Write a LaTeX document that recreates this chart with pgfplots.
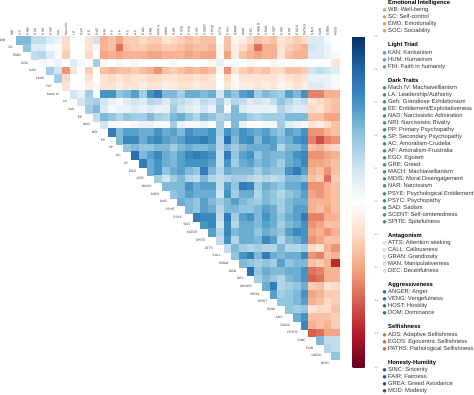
\documentclass[border=0pt]{standalone}
\usepackage{pgfplots}
\pgfplotsset{compat=1.18}
\usepackage{fontspec}
\setmainfont{Liberation Sans}
\newfontfamily\dejavu{DejaVu Sans}
\definecolor{labgrey}{HTML}{333333}
\definecolor{cEI}{HTML}{D8A25E}
\definecolor{cLT}{HTML}{6F93B8}
\definecolor{cDT}{HTML}{3E8E7E}
\definecolor{cANf}{HTML}{F2E6E2}
\definecolor{cANd}{HTML}{B89A90}
\definecolor{cAG}{HTML}{2E6F82}
\definecolor{cSE}{HTML}{C8704A}
\definecolor{cHH}{HTML}{34507F}
\newcommand{\lgt}[2]{\node[anchor=base west,inner sep=0,font=\fontsize{5.85}{7}\selectfont\bfseries,text=black] at (388bp,-#1bp) {#2};}
\newcommand{\lgi}[3]{\node[anchor=base west,inner sep=0,font=\fontsize{5.85}{7}\selectfont,text=labgrey] at (388bp,-#1bp) {\llap{{\dejavu\fontsize{4.6}{5}\selectfont\textcolor{#2}{●}}\hspace{1.6bp}}#3};}
\newcommand{\lga}[2]{\node[anchor=base west,inner sep=0,font=\fontsize{5.85}{7}\selectfont,text=labgrey] at (388bp,-#1bp) {\llap{{\dejavu\fontsize{4.6}{5}\selectfont\rlap{\textcolor{cANf}{●}}\textcolor{cANd}{○}}\hspace{1.6bp}}#2};}
\newcommand{\rl}[2]{\node[anchor=east,inner sep=0,xshift=-2.7bp,font=\fontsize{3.3}{4}\selectfont,text=labgrey] at (axis cs:#1-0.5,#1) {#2};}
\begin{document}
\begin{tikzpicture}
\useasboundingbox (0,0) rectangle (474bp,-395bp);
\begin{axis}[
  at={(8.15bp,-36.15bp)}, anchor=north west,
  width=331.1bp, height=331.1bp, scale only axis,
  xmin=0.5, xmax=43.5, ymin=0.5, ymax=43.5, y dir=reverse,
  clip=false,
  axis line style={draw=none},
  major tick length=0pt,
  xtick={1,...,43},
  xticklabels={WB,SC,EMO,SOC,KAN,HUM,FIH,Mach IV,LA,Geh,EE,NAD,NRI,PP,SP,AC,AF,EGO,GRE,MACH,MDIS,NAR,PSYE,PSYC,SAD,SCENT,SPITE,ATTS,CALL,GRAN,MAN,DEC,ANGER,VENG,HOST,DOM,ADS,EGOS,PATHS,SINC,FAIR,GREA,MOD},
  xticklabel pos=upper,
  x tick label style={rotate=90, anchor=west, font=\fontsize{3.3}{4}\selectfont, text=labgrey, inner sep=0.8bp},
  ytick=\empty,
  colormap={rdbu}{rgb255=(103,0,31) rgb255=(178,24,43) rgb255=(214,96,77) rgb255=(244,165,130) rgb255=(253,219,199) rgb255=(255,255,255) rgb255=(209,229,240) rgb255=(146,197,222) rgb255=(67,147,195) rgb255=(33,102,172) rgb255=(5,48,97)},
  point meta min=-1, point meta max=1,
  colorbar,
  colorbar style={
    at={(parent axis.north east)}, anchor=north west, xshift=4.75bp,
    width=12bp,
    ytick={-1,-0.8,-0.6,-0.4,-0.2,0,0.2,0.4,0.6,0.8,1},
    yticklabel style={font=\fontsize{2.5}{3}\selectfont, text=gray, xshift=6bp, /pgf/number format/.cd, fixed, fixed zerofill, precision=1, assume math mode=true},
    major tick length=1.5bp,
    tick style={draw=none},
    axis line style={draw=none},
  },
]
\addplot[scatter, only marks, mark=square*, mark size=3.85bp, point meta=explicit,
  scatter/use mapped color={draw=mapped color, fill=mapped color}] coordinates {
(2,1)[0.45] (3,1)[0.45] (4,1)[0.25] (5,1)[0.25] (6,1)[0.15] (7,1)[0.10] (8,1)[-0.20] (9,1)[0.00] (10,1)[0.02] (11,1)[-0.15] (12,1)[0.20] (13,1)[-0.35] (14,1)[-0.30] (15,1)[-0.40] (16,1)[-0.25] (17,1)[-0.25] (18,1)[-0.20] (19,1)[-0.25] (20,1)[-0.25] (21,1)[-0.15] (22,1)[-0.20] (23,1)[-0.25] (24,1)[-0.30] (25,1)[-0.25] (26,1)[-0.30] (27,1)[-0.30] (28,1)[0.00] (29,1)[-0.30] (30,1)[-0.05] (31,1)[-0.10] (32,1)[-0.20] (33,1)[-0.30] (34,1)[-0.25] (35,1)[-0.30] (36,1)[-0.15] (37,1)[-0.20] (38,1)[-0.25] (39,1)[-0.20] (40,1)[0.15] (41,1)[0.15] (42,1)[0.05] (43,1)[0.00]
(3,2)[0.40] (4,2)[0.15] (5,2)[0.15] (6,2)[0.05] (7,2)[0.05] (8,2)[-0.20] (9,2)[0.00] (10,2)[0.00] (11,2)[-0.15] (12,2)[0.05] (13,2)[-0.35] (14,2)[-0.30] (15,2)[-0.55] (16,2)[-0.30] (17,2)[-0.25] (18,2)[-0.25] (19,2)[-0.30] (20,2)[-0.30] (21,2)[-0.25] (22,2)[-0.25] (23,2)[-0.30] (24,2)[-0.35] (25,2)[-0.30] (26,2)[-0.30] (27,2)[-0.35] (28,2)[-0.05] (29,2)[-0.30] (30,2)[-0.10] (31,2)[-0.20] (32,2)[-0.30] (33,2)[-0.55] (34,2)[-0.35] (35,2)[-0.35] (36,2)[-0.15] (37,2)[-0.25] (38,2)[-0.30] (39,2)[-0.35] (40,2)[0.20] (41,2)[0.15] (42,2)[0.10] (43,2)[0.00]
(4,3)[0.25] (5,3)[0.30] (6,3)[0.15] (7,3)[0.05] (8,3)[-0.25] (9,3)[0.00] (10,3)[0.00] (11,3)[-0.20] (12,3)[0.00] (13,3)[-0.40] (14,3)[-0.35] (15,3)[-0.40] (16,3)[-0.35] (17,3)[-0.35] (18,3)[-0.35] (19,3)[-0.40] (20,3)[-0.40] (21,3)[-0.35] (22,3)[-0.35] (23,3)[-0.35] (24,3)[-0.40] (25,3)[-0.35] (26,3)[-0.40] (27,3)[-0.40] (28,3)[-0.05] (29,3)[-0.40] (30,3)[-0.10] (31,3)[-0.30] (32,3)[-0.35] (33,3)[-0.40] (34,3)[-0.35] (35,3)[-0.35] (36,3)[-0.15] (37,3)[-0.30] (38,3)[-0.35] (39,3)[-0.35] (40,3)[0.15] (41,3)[0.15] (42,3)[0.10] (43,3)[0.05]
(5,4)[0.05] (6,4)[0.05] (7,4)[0.10] (8,4)[0.00] (9,4)[0.15] (10,4)[0.05] (11,4)[0.00] (12,4)[0.35] (13,4)[-0.05] (14,4)[0.00] (15,4)[-0.05] (16,4)[0.00] (17,4)[-0.05] (18,4)[0.00] (19,4)[0.00] (20,4)[0.00] (21,4)[0.00] (22,4)[0.05] (23,4)[0.00] (24,4)[0.00] (25,4)[0.00] (26,4)[0.00] (27,4)[-0.05] (28,4)[0.10] (29,4)[0.00] (30,4)[0.05] (31,4)[0.00] (32,4)[-0.05] (33,4)[0.00] (34,4)[0.00] (35,4)[-0.05] (36,4)[0.05] (37,4)[0.00] (38,4)[0.00] (39,4)[0.00] (40,4)[0.00] (41,4)[0.00] (42,4)[0.00] (43,4)[-0.15]
(6,5)[0.35] (7,5)[0.20] (8,5)[-0.45] (9,5)[-0.15] (10,5)[0.00] (11,5)[-0.25] (12,5)[0.00] (13,5)[-0.30] (14,5)[-0.35] (15,5)[-0.30] (16,5)[-0.30] (17,5)[-0.25] (18,5)[-0.30] (19,5)[-0.35] (20,5)[-0.45] (21,5)[-0.30] (22,5)[-0.25] (23,5)[-0.30] (24,5)[-0.35] (25,5)[-0.30] (26,5)[-0.35] (27,5)[-0.30] (28,5)[-0.05] (29,5)[-0.45] (30,5)[-0.15] (31,5)[-0.25] (32,5)[-0.30] (33,5)[-0.25] (34,5)[-0.30] (35,5)[-0.20] (36,5)[-0.20] (37,5)[-0.30] (38,5)[-0.30] (39,5)[-0.25] (40,5)[0.20] (41,5)[0.25] (42,5)[0.20] (43,5)[0.15]
(7,6)[0.35] (8,6)[-0.20] (9,6)[0.00] (10,6)[0.00] (11,6)[-0.15] (12,6)[0.00] (13,6)[-0.15] (14,6)[-0.20] (15,6)[-0.15] (16,6)[-0.20] (17,6)[-0.15] (18,6)[-0.15] (19,6)[-0.20] (20,6)[-0.20] (21,6)[-0.15] (22,6)[-0.15] (23,6)[-0.20] (24,6)[-0.20] (25,6)[-0.15] (26,6)[-0.20] (27,6)[-0.15] (28,6)[0.00] (29,6)[-0.20] (30,6)[-0.05] (31,6)[-0.15] (32,6)[-0.15] (33,6)[-0.15] (34,6)[-0.15] (35,6)[-0.15] (36,6)[-0.10] (37,6)[-0.15] (38,6)[-0.20] (39,6)[-0.15] (40,6)[0.10] (41,6)[0.10] (42,6)[0.10] (43,6)[0.05]
(8,7)[-0.15] (9,7)[0.00] (10,7)[0.00] (11,7)[-0.10] (12,7)[0.05] (13,7)[-0.15] (14,7)[-0.15] (15,7)[-0.10] (16,7)[-0.15] (17,7)[-0.15] (18,7)[-0.10] (19,7)[-0.15] (20,7)[-0.15] (21,7)[-0.10] (22,7)[-0.10] (23,7)[-0.15] (24,7)[-0.15] (25,7)[-0.10] (26,7)[-0.15] (27,7)[-0.15] (28,7)[0.00] (29,7)[-0.15] (30,7)[-0.05] (31,7)[-0.10] (32,7)[-0.10] (33,7)[-0.15] (34,7)[-0.10] (35,7)[-0.15] (36,7)[-0.05] (37,7)[-0.10] (38,7)[-0.15] (39,7)[-0.10] (40,7)[0.15] (41,7)[0.15] (42,7)[0.10] (43,7)[0.05]
(9,8)[0.20] (10,8)[0.10] (11,8)[0.35] (12,8)[0.05] (13,8)[0.60] (14,8)[0.60] (15,8)[0.40] (16,8)[0.45] (17,8)[0.55] (18,8)[0.35] (19,8)[0.60] (20,8)[0.70] (21,8)[0.45] (22,8)[0.45] (23,8)[0.35] (24,8)[0.50] (25,8)[0.50] (26,8)[0.45] (27,8)[0.50] (28,8)[0.20] (29,8)[0.50] (30,8)[0.40] (31,8)[0.55] (32,8)[0.60] (33,8)[0.35] (34,8)[0.45] (35,8)[0.40] (36,8)[0.35] (37,8)[0.55] (38,8)[0.45] (39,8)[0.60] (40,8)[-0.50] (41,8)[-0.50] (42,8)[-0.35] (43,8)[-0.35]
(10,9)[0.20] (11,9)[0.30] (12,9)[0.35] (13,9)[0.20] (14,9)[0.10] (15,9)[0.05] (16,9)[0.15] (17,9)[0.20] (18,9)[0.15] (19,9)[0.30] (20,9)[0.25] (21,9)[0.15] (22,9)[0.30] (23,9)[0.25] (24,9)[0.20] (25,9)[0.15] (26,9)[0.25] (27,9)[0.20] (28,9)[0.35] (29,9)[0.15] (30,9)[0.30] (31,9)[0.25] (32,9)[0.15] (33,9)[0.20] (34,9)[0.15] (35,9)[0.25] (36,9)[0.40] (37,9)[0.30] (38,9)[0.20] (39,9)[0.25] (40,9)[-0.15] (41,9)[-0.20] (42,9)[-0.25] (43,9)[-0.30]
(11,10)[0.35] (12,10)[0.45] (13,10)[0.15] (14,10)[0.05] (15,10)[0.10] (16,10)[0.10] (17,10)[0.15] (18,10)[0.10] (19,10)[0.15] (20,10)[0.10] (21,10)[0.10] (22,10)[0.35] (23,10)[0.20] (24,10)[0.15] (25,10)[0.10] (26,10)[0.20] (27,10)[0.10] (28,10)[0.40] (29,10)[0.05] (30,10)[0.45] (31,10)[0.15] (32,10)[0.10] (33,10)[0.10] (34,10)[0.10] (35,10)[0.10] (36,10)[0.30] (37,10)[0.20] (38,10)[0.15] (39,10)[0.15] (40,10)[-0.20] (41,10)[-0.15] (42,10)[-0.25] (43,10)[-0.30]
(12,11)[0.25] (13,11)[0.45] (14,11)[0.40] (15,11)[0.30] (16,11)[0.40] (17,11)[0.35] (18,11)[0.35] (19,11)[0.45] (20,11)[0.35] (21,11)[0.30] (22,11)[0.45] (23,11)[0.50] (24,11)[0.40] (25,11)[0.30] (26,11)[0.45] (27,11)[0.40] (28,11)[0.30] (29,11)[0.35] (30,11)[0.45] (31,11)[0.45] (32,11)[0.35] (33,11)[0.30] (34,11)[0.35] (35,11)[0.35] (36,11)[0.35] (37,11)[0.45] (38,11)[0.45] (39,11)[0.45] (40,11)[-0.30] (41,11)[-0.30] (42,11)[-0.40] (43,11)[-0.40]
(13,12)[0.20] (14,12)[0.05] (15,12)[0.05] (16,12)[0.00] (17,12)[0.05] (18,12)[0.10] (19,12)[0.10] (20,12)[0.05] (21,12)[0.05] (22,12)[0.35] (23,12)[0.10] (24,12)[0.05] (25,12)[0.05] (26,12)[0.10] (27,12)[0.00] (28,12)[0.35] (29,12)[0.00] (30,12)[0.45] (31,12)[0.10] (32,12)[0.00] (33,12)[0.00] (34,12)[0.05] (35,12)[0.05] (36,12)[0.35] (37,12)[0.15] (38,12)[0.10] (39,12)[0.05] (40,12)[-0.15] (41,12)[-0.10] (42,12)[-0.20] (43,12)[-0.30]
(14,13)[0.70] (15,13)[0.45] (16,13)[0.55] (17,13)[0.55] (18,13)[0.50] (19,13)[0.50] (20,13)[0.60] (21,13)[0.50] (22,13)[0.55] (23,13)[0.45] (24,13)[0.60] (25,13)[0.55] (26,13)[0.55] (27,13)[0.60] (28,13)[0.35] (29,13)[0.60] (30,13)[0.50] (31,13)[0.60] (32,13)[0.55] (33,13)[0.50] (34,13)[0.55] (35,13)[0.45] (36,13)[0.40] (37,13)[0.55] (38,13)[0.50] (39,13)[0.60] (40,13)[-0.45] (41,13)[-0.45] (42,13)[-0.35] (43,13)[-0.30]
(15,14)[0.45] (16,14)[0.65] (17,14)[0.65] (18,14)[0.50] (19,14)[0.60] (20,14)[0.65] (21,14)[0.55] (22,14)[0.50] (23,14)[0.55] (24,14)[0.65] (25,14)[0.65] (26,14)[0.70] (27,14)[0.60] (28,14)[0.30] (29,14)[0.75] (30,14)[0.45] (31,14)[0.60] (32,14)[0.65] (33,14)[0.45] (34,14)[0.60] (35,14)[0.55] (36,14)[0.45] (37,14)[0.50] (38,14)[0.60] (39,14)[0.65] (40,14)[-0.50] (41,14)[-0.65] (42,14)[-0.50] (43,14)[-0.45]
(16,15)[0.40] (17,15)[0.45] (18,15)[0.40] (19,15)[0.40] (20,15)[0.45] (21,15)[0.45] (22,15)[0.35] (23,15)[0.45] (24,15)[0.50] (25,15)[0.45] (26,15)[0.45] (27,15)[0.50] (28,15)[0.30] (29,15)[0.45] (30,15)[0.35] (31,15)[0.45] (32,15)[0.50] (33,15)[0.50] (34,15)[0.50] (35,15)[0.55] (36,15)[0.30] (37,15)[0.45] (38,15)[0.45] (39,15)[0.55] (40,15)[-0.30] (41,15)[-0.35] (42,15)[-0.25] (43,15)[-0.20]
(17,16)[0.75] (18,16)[0.45] (19,16)[0.55] (20,16)[0.65] (21,16)[0.50] (22,16)[0.45] (23,16)[0.55] (24,16)[0.65] (25,16)[0.70] (26,16)[0.65] (27,16)[0.60] (28,16)[0.25] (29,16)[0.70] (30,16)[0.40] (31,16)[0.55] (32,16)[0.60] (33,16)[0.40] (34,16)[0.50] (35,16)[0.45] (36,16)[0.45] (37,16)[0.50] (38,16)[0.60] (39,16)[0.65] (40,16)[-0.45] (41,16)[-0.45] (42,16)[-0.40] (43,16)[-0.35]
(18,17)[0.70] (19,17)[0.50] (20,17)[0.60] (21,17)[0.50] (22,17)[0.45] (23,17)[0.55] (24,17)[0.60] (25,17)[0.60] (26,17)[0.60] (27,17)[0.55] (28,17)[0.25] (29,17)[0.60] (30,17)[0.35] (31,17)[0.50] (32,17)[0.55] (33,17)[0.45] (34,17)[0.50] (35,17)[0.45] (36,17)[0.35] (37,17)[0.50] (38,17)[0.55] (39,17)[0.65] (40,17)[-0.40] (41,17)[-0.40] (42,17)[-0.35] (43,17)[-0.30]
(19,18)[0.50] (20,18)[0.60] (21,18)[0.40] (22,18)[0.50] (23,18)[0.55] (24,18)[0.45] (25,18)[0.40] (26,18)[0.70] (27,18)[0.45] (28,18)[0.30] (29,18)[0.50] (30,18)[0.45] (31,18)[0.45] (32,18)[0.45] (33,18)[0.35] (34,18)[0.45] (35,18)[0.40] (36,18)[0.40] (37,18)[0.60] (38,18)[0.70] (39,18)[0.55] (40,18)[-0.35] (41,18)[-0.30] (42,18)[-0.45] (43,18)[-0.30]
(20,19)[0.35] (21,19)[0.20] (22,19)[0.35] (23,19)[0.45] (24,19)[0.30] (25,19)[0.25] (26,19)[0.45] (27,19)[0.30] (28,19)[0.25] (29,19)[0.30] (30,19)[0.35] (31,19)[0.35] (32,19)[0.30] (33,19)[0.25] (34,19)[0.30] (35,19)[0.25] (36,19)[0.30] (37,19)[0.45] (38,19)[0.45] (39,19)[0.40] (40,19)[-0.30] (41,19)[-0.25] (42,19)[-0.55] (43,19)[-0.25]
(21,20)[0.45] (22,20)[0.45] (23,20)[0.45] (24,20)[0.60] (25,20)[0.50] (26,20)[0.55] (27,20)[0.55] (28,20)[0.25] (29,20)[0.55] (30,20)[0.40] (31,20)[0.70] (32,20)[0.65] (33,20)[0.35] (34,20)[0.50] (35,20)[0.45] (36,20)[0.40] (37,20)[0.50] (38,20)[0.50] (39,20)[0.60] (40,20)[-0.45] (41,20)[-0.45] (42,20)[-0.35] (43,20)[-0.30]
(22,21)[0.40] (23,21)[0.45] (24,21)[0.55] (25,21)[0.50] (26,21)[0.50] (27,21)[0.50] (28,21)[0.20] (29,21)[0.60] (30,21)[0.35] (31,21)[0.50] (32,21)[0.50] (33,21)[0.30] (34,21)[0.45] (35,21)[0.40] (36,21)[0.30] (37,21)[0.40] (38,21)[0.45] (39,21)[0.55] (40,21)[-0.40] (41,21)[-0.45] (42,21)[-0.35] (43,21)[-0.30]
(23,22)[0.50] (24,22)[0.45] (25,22)[0.40] (26,22)[0.55] (27,22)[0.45] (28,22)[0.35] (29,22)[0.45] (30,22)[0.55] (31,22)[0.45] (32,22)[0.40] (33,22)[0.35] (34,22)[0.45] (35,22)[0.40] (36,22)[0.35] (37,22)[0.45] (38,22)[0.50] (39,22)[0.50] (40,22)[-0.35] (41,22)[-0.35] (42,22)[-0.35] (43,22)[-0.30]
(24,23)[0.45] (25,23)[0.40] (26,23)[0.55] (27,23)[0.50] (28,23)[0.30] (29,23)[0.45] (30,23)[0.45] (31,23)[0.40] (32,23)[0.40] (33,23)[0.45] (34,23)[0.55] (35,23)[0.50] (36,23)[0.35] (37,23)[0.45] (38,23)[0.55] (39,23)[0.55] (40,23)[-0.35] (41,23)[-0.30] (42,23)[-0.40] (43,23)[-0.30]
(25,24)[0.70] (26,24)[0.65] (27,24)[0.65] (28,24)[0.25] (29,24)[0.70] (30,24)[0.35] (31,24)[0.55] (32,24)[0.60] (33,24)[0.45] (34,24)[0.60] (35,24)[0.50] (36,24)[0.40] (37,24)[0.50] (38,24)[0.55] (39,24)[0.70] (40,24)[-0.50] (41,24)[-0.50] (42,24)[-0.35] (43,24)[-0.35]
(26,25)[0.60] (27,25)[0.65] (28,25)[0.20] (29,25)[0.65] (30,25)[0.30] (31,25)[0.50] (32,25)[0.50] (33,25)[0.45] (34,25)[0.55] (35,25)[0.50] (36,25)[0.35] (37,25)[0.45] (38,25)[0.50] (39,25)[0.60] (40,25)[-0.45] (41,25)[-0.40] (42,25)[-0.30] (43,25)[-0.30]
(27,26)[0.55] (28,26)[0.30] (29,26)[0.65] (30,26)[0.45] (31,26)[0.50] (32,26)[0.50] (33,26)[0.40] (34,26)[0.50] (35,26)[0.45] (36,26)[0.40] (37,26)[0.55] (38,26)[0.65] (39,26)[0.60] (40,26)[-0.40] (41,26)[-0.35] (42,26)[-0.45] (43,26)[-0.35]
(28,27)[0.25] (29,27)[0.60] (30,27)[0.30] (31,27)[0.50] (32,27)[0.50] (33,27)[0.45] (34,27)[0.65] (35,27)[0.55] (36,27)[0.30] (37,27)[0.45] (38,27)[0.50] (39,27)[0.60] (40,27)[-0.45] (41,27)[-0.40] (42,27)[-0.30] (43,27)[-0.30]
(29,28)[0.25] (30,28)[0.45] (31,28)[0.35] (32,28)[0.30] (33,28)[0.35] (34,28)[0.30] (35,28)[0.30] (36,28)[0.45] (37,28)[0.30] (38,28)[0.30] (39,28)[0.35] (40,28)[-0.20] (41,28)[-0.15] (42,28)[-0.35] (43,28)[-0.45]
(30,29)[0.40] (31,29)[0.60] (32,29)[0.70] (33,29)[0.45] (34,29)[0.70] (35,29)[0.50] (36,29)[0.45] (37,29)[0.50] (38,29)[0.50] (39,29)[0.65] (40,29)[-0.45] (41,29)[-0.50] (42,29)[-0.30] (43,29)[-0.35]
(31,30)[0.45] (32,30)[0.40] (33,30)[0.35] (34,30)[0.40] (35,30)[0.35] (36,30)[0.55] (37,30)[0.40] (38,30)[0.45] (39,30)[0.45] (40,30)[-0.30] (41,30)[-0.25] (42,30)[-0.35] (43,30)[-0.75]
(32,31)[0.75] (33,31)[0.40] (34,31)[0.50] (35,31)[0.45] (36,31)[0.45] (37,31)[0.50] (38,31)[0.50] (39,31)[0.60] (40,31)[-0.55] (41,31)[-0.50] (42,31)[-0.35] (43,31)[-0.35]
(33,32)[0.35] (34,32)[0.45] (35,32)[0.40] (36,32)[0.30] (37,32)[0.45] (38,32)[0.50] (39,32)[0.60] (40,32)[-0.60] (41,32)[-0.55] (42,32)[-0.35] (43,32)[-0.35]
(34,33)[0.50] (35,33)[0.70] (36,33)[0.30] (37,33)[0.35] (38,33)[0.40] (39,33)[0.50] (40,33)[-0.25] (41,33)[-0.30] (42,33)[-0.15] (43,33)[-0.20]
(35,34)[0.55] (36,34)[0.35] (37,34)[0.40] (38,34)[0.45] (39,34)[0.60] (40,34)[-0.40] (41,34)[-0.35] (42,34)[-0.25] (43,34)[-0.25]
(36,35)[0.40] (37,35)[0.40] (38,35)[0.45] (39,35)[0.55] (40,35)[-0.35] (41,35)[-0.30] (42,35)[-0.20] (43,35)[-0.25]
(37,36)[0.40] (38,36)[0.35] (39,36)[0.40] (40,36)[-0.15] (41,36)[-0.20] (42,36)[-0.20] (43,36)[-0.30]
(38,37)[0.50] (39,37)[0.60] (40,37)[-0.30] (41,37)[-0.30] (42,37)[-0.30] (43,37)[-0.25]
(39,38)[0.65] (40,38)[-0.35] (41,38)[-0.30] (42,38)[-0.35] (43,38)[-0.25]
(40,39)[-0.60] (41,39)[-0.55] (42,39)[-0.40] (43,39)[-0.40]
(41,40)[0.45] (42,40)[0.25] (43,40)[0.25]
(42,41)[0.30] (43,41)[0.25]
(43,42)[0.40]
};
\rl{1}{WB}\rl{2}{SC}\rl{3}{EMO}\rl{4}{SOC}\rl{5}{KAN}\rl{6}{HUM}\rl{7}{FIH}\rl{8}{Mach IV}
\rl{9}{LA}\rl{10}{Geh}\rl{11}{EE}\rl{12}{NAD}\rl{13}{NRI}\rl{14}{PP}\rl{15}{SP}\rl{16}{AC}
\rl{17}{AF}\rl{18}{EGO}\rl{19}{GRE}\rl{20}{MACH}\rl{21}{MDIS}\rl{22}{NAR}\rl{23}{PSYE}
\rl{24}{PSYC}\rl{25}{SAD}\rl{26}{SCENT}\rl{27}{SPITE}\rl{28}{ATTS}\rl{29}{CALL}\rl{30}{GRAN}
\rl{31}{MAN}\rl{32}{DEC}\rl{33}{ANGER}\rl{34}{VENG}\rl{35}{HOST}\rl{36}{DOM}\rl{37}{ADS}
\rl{38}{EGOS}\rl{39}{PATHS}\rl{40}{SINC}\rl{41}{FAIR}\rl{42}{GREA}\rl{43}{MOD}
\end{axis}
\lgt{4.65}{Emotional Intelligence}
\lgi{11.7}{cEI}{WB: Well-being}
\lgi{18.75}{cEI}{SC: Self-control}
\lgi{25.8}{cEI}{EMO: Emotionality}
\lgi{32.85}{cEI}{SOC: Sociability}
\lgt{46.95}{Light Triad}
\lgi{54.0}{cLT}{KAN: Kantianism}
\lgi{61.05}{cLT}{HUM: Humanism}
\lgi{68.1}{cLT}{FIH: Faith in humanity}
\lgt{82.2}{Dark Traits}
\lgi{89.25}{cDT}{Mach IV: Machiavellianism}
\lgi{96.3}{cDT}{LA: Leadership/Authority}
\lgi{103.35}{cDT}{Geh: Grandiose Exhibitionism}
\lgi{110.4}{cDT}{EE: Entitlement/Exploitativeness}
\lgi{117.45}{cDT}{NAD: Narcissistic Admiration}
\lgi{124.5}{cDT}{NRI: Narcissistic Rivalry}
\lgi{131.55}{cDT}{PP: Primary Psychopathy}
\lgi{138.6}{cDT}{SP: Secondary Psychopathy}
\lgi{145.65}{cDT}{AC: Amoralism-Crudelia}
\lgi{152.7}{cDT}{AF: Amoralism-Frustralia}
\lgi{159.75}{cDT}{EGO: Egoism}
\lgi{166.8}{cDT}{GRE: Greed}
\lgi{173.85}{cDT}{MACH: Machiavellianism}
\lgi{180.9}{cDT}{MDIS: Moral Disengagement}
\lgi{187.95}{cDT}{NAR: Narcissism}
\lgi{195.0}{cDT}{PSYE: Psychological Entitlement}
\lgi{202.05}{cDT}{PSYC: Psychopathy}
\lgi{209.1}{cDT}{SAD: Sadism}
\lgi{216.15}{cDT}{SCENT: Self-centeredness}
\lgi{223.2}{cDT}{SPITE: Spitefulness}
\lgt{237.3}{Antagonism}
\lga{244.35}{ATTS: Attention seeking}
\lga{251.4}{CALL: Callousness}
\lga{258.45}{GRAN: Grandiosity}
\lga{265.5}{MAN: Manipulativeness}
\lga{272.55}{DEC: Deceitfulness}
\lgt{286.65}{Aggressiveness}
\lgi{293.7}{cAG}{ANGER: Anger}
\lgi{300.75}{cAG}{VENG: Vengefulness}
\lgi{307.8}{cAG}{HOST: Hostility}
\lgi{314.85}{cAG}{DOM: Dominance}
\lgt{328.95}{Selfishness}
\lgi{336.0}{cSE}{ADS: Adaptive Selfishness}
\lgi{343.05}{cSE}{EGOS: Egocentric Selfishness}
\lgi{350.1}{cSE}{PATHS: Pathological Selfishness}
\lgt{364.2}{Honesty-Humility}
\lgi{371.25}{cHH}{SINC: Sincerity}
\lgi{378.3}{cHH}{FAIR: Fairness}
\lgi{385.35}{cHH}{GREA: Greed Avoidance}
\lgi{392.4}{cHH}{MOD: Modesty}
\end{tikzpicture}
\end{document}
